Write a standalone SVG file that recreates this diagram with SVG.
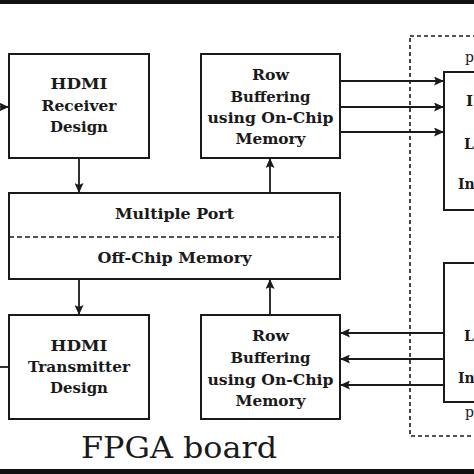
<svg xmlns="http://www.w3.org/2000/svg" width="474" height="474" viewBox="0 0 474 474">
<style>
.box{fill:#fff;stroke:#1a1a1a;stroke-width:2}
.lbl{font-family:"DejaVu Serif","Liberation Serif",serif;font-weight:bold;font-size:14px;fill:#1a1a1a;text-anchor:middle}
.edge{font-family:"DejaVu Serif","Liberation Serif",serif;font-weight:bold;font-size:14px;fill:#1a1a1a}
.conn{stroke:#1a1a1a;stroke-width:1.8;fill:none}
</style>
<defs>
<marker id="ah" markerUnits="userSpaceOnUse" markerWidth="11" markerHeight="9" refX="10" refY="4.5" orient="auto">
<path d="M0,0 L10,4.5 L0,9 L2,4.5 z" fill="#1a1a1a"/>
</marker>
</defs>
<rect x="0" y="0" width="474" height="474" fill="#fff"/>
<rect x="0" y="0" width="474" height="4" fill="#111"/>
<rect x="0" y="469" width="474" height="5" fill="#111"/>

<g id="pc-region">
<rect x="410" y="36" width="100" height="400" fill="none" stroke="#1a1a1a" stroke-width="1.6" stroke-dasharray="4 3"/>
<text x="465" y="62" style="font-family:'DejaVu Serif','Liberation Serif',serif;font-size:14px;fill:#1a1a1a">p</text>
<text x="465" y="417" style="font-family:'DejaVu Serif','Liberation Serif',serif;font-size:14px;fill:#1a1a1a">p</text>
</g>

<g id="pc-top">
<rect class="box" x="444" y="72" width="60" height="138"/>
<text class="edge" x="466" y="106" style="font-size:15px">I</text>
<text class="edge" x="464" y="149">L</text>
<text class="edge" x="458" y="189">In</text>
</g>

<g id="pc-bottom">
<rect class="box" x="444" y="263" width="60" height="139"/>
<text class="edge" x="464" y="341">L</text>
<text class="edge" x="458" y="383">In</text>
</g>

<g id="hdmi-rx">
<rect class="box" x="9" y="54" width="140" height="104"/>
<text class="lbl" x="79" y="89" textLength="57" lengthAdjust="spacingAndGlyphs">HDMI</text>
<text class="lbl" x="79" y="111" textLength="75" lengthAdjust="spacingAndGlyphs">Receiver</text>
<text class="lbl" x="79" y="132" textLength="58" lengthAdjust="spacingAndGlyphs">Design</text>
</g>

<g id="row-top">
<rect class="box" x="201" y="54" width="139" height="104"/>
<text class="lbl" x="270.5" y="80" textLength="37" lengthAdjust="spacingAndGlyphs">Row</text>
<text class="lbl" x="270.5" y="102" textLength="80" lengthAdjust="spacingAndGlyphs">Buffering</text>
<text class="lbl" x="270.5" y="123" textLength="126" lengthAdjust="spacingAndGlyphs">using On-Chip</text>
<text class="lbl" x="270.5" y="144" textLength="70" lengthAdjust="spacingAndGlyphs">Memory</text>
</g>

<g id="memory">
<rect class="box" x="9" y="193" width="331" height="86"/>
<line x1="9" y1="237" x2="340" y2="237" stroke="#1a1a1a" stroke-width="1.6" stroke-dasharray="5 3"/>
<text class="lbl" x="174.5" y="219" textLength="119" lengthAdjust="spacingAndGlyphs">Multiple Port</text>
<text class="lbl" x="174.5" y="263" textLength="154" lengthAdjust="spacingAndGlyphs">Off-Chip Memory</text>
</g>

<g id="hdmi-tx">
<rect class="box" x="9" y="315" width="140" height="104"/>
<text class="lbl" x="79" y="351" textLength="57" lengthAdjust="spacingAndGlyphs">HDMI</text>
<text class="lbl" x="79" y="372" textLength="102" lengthAdjust="spacingAndGlyphs">Transmitter</text>
<text class="lbl" x="79" y="393" textLength="58" lengthAdjust="spacingAndGlyphs">Design</text>
</g>

<g id="row-bottom">
<rect class="box" x="201" y="315" width="139" height="104"/>
<text class="lbl" x="270.5" y="341" textLength="37" lengthAdjust="spacingAndGlyphs">Row</text>
<text class="lbl" x="270.5" y="363" textLength="80" lengthAdjust="spacingAndGlyphs">Buffering</text>
<text class="lbl" x="270.5" y="385" textLength="126" lengthAdjust="spacingAndGlyphs">using On-Chip</text>
<text class="lbl" x="270.5" y="406" textLength="70" lengthAdjust="spacingAndGlyphs">Memory</text>
</g>

<g id="connectors">
<line class="conn" x1="0" y1="107" x2="9" y2="107" marker-end="url(#ah)"/>
<line class="conn" x1="9" y1="367" x2="0" y2="367"/>
<line class="conn" x1="79" y1="158" x2="79" y2="193" marker-end="url(#ah)"/>
<line class="conn" x1="270" y1="193" x2="270" y2="158" marker-end="url(#ah)"/>
<line class="conn" x1="79" y1="279" x2="79" y2="315" marker-end="url(#ah)"/>
<line class="conn" x1="270" y1="315" x2="270" y2="279" marker-end="url(#ah)"/>
<line class="conn" x1="340" y1="81" x2="444" y2="81" marker-end="url(#ah)"/>
<line class="conn" x1="340" y1="107" x2="444" y2="107" marker-end="url(#ah)"/>
<line class="conn" x1="340" y1="132" x2="444" y2="132" marker-end="url(#ah)"/>
<line class="conn" x1="444" y1="333" x2="340" y2="333" marker-end="url(#ah)"/>
<line class="conn" x1="444" y1="359" x2="340" y2="359" marker-end="url(#ah)"/>
<line class="conn" x1="444" y1="385" x2="340" y2="385" marker-end="url(#ah)"/>
</g>

<text x="179" y="458" text-anchor="middle" textLength="196" lengthAdjust="spacingAndGlyphs" style="font-family:'DejaVu Serif','Liberation Serif',serif;font-size:30px;fill:#1a1a1a">FPGA board</text>
</svg>
